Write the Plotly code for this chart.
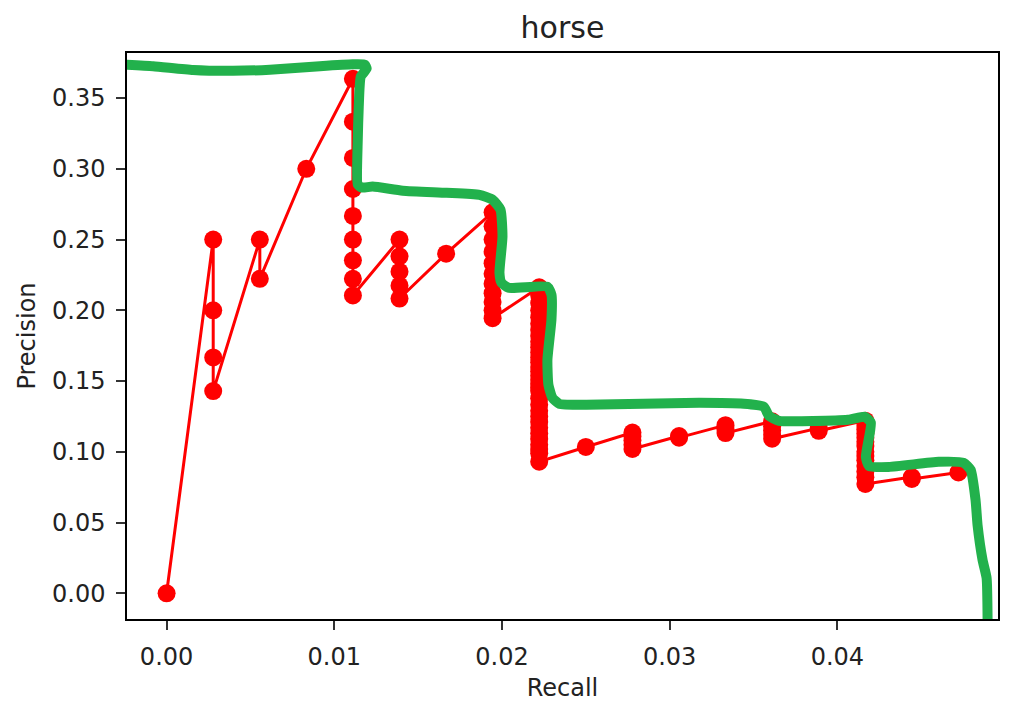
import plotly.graph_objects as go

# Precision-recall points (red)
recall = [
    0.0,
    0.00278, 0.00278, 0.00278, 0.00278,
    0.00556, 0.00556,
    0.00833,
    0.01111, 0.01111, 0.01111, 0.01111, 0.01111, 0.01111, 0.01111, 0.01111, 0.01111,
    0.01389, 0.01389, 0.01389, 0.01389, 0.01389,
    0.01667,
    0.01944, 0.01944, 0.01944, 0.01944, 0.01944, 0.01944, 0.01944, 0.01944, 0.01944, 0.01944, 0.01944,
    0.02222, 0.02222, 0.02222, 0.02222, 0.02222, 0.02222, 0.02222, 0.02222, 0.02222, 0.02222,
    0.02222, 0.02222, 0.02222, 0.02222, 0.02222, 0.02222, 0.02222, 0.02222, 0.02222, 0.02222,
    0.02222, 0.02222, 0.02222, 0.02222, 0.02222, 0.02222, 0.02222, 0.02222, 0.02222, 0.02222,
    0.02222, 0.02222,
    0.025,
    0.02778, 0.02778, 0.02778, 0.02778, 0.02778,
    0.03056, 0.03056,
    0.03333, 0.03333, 0.03333,
    0.03611, 0.03611, 0.03611, 0.03611, 0.03611,
    0.03889, 0.03889,
    0.04167, 0.04167, 0.04167, 0.04167, 0.04167, 0.04167, 0.04167, 0.04167, 0.04167, 0.04167,
    0.04167, 0.04167, 0.04167, 0.04167,
    0.04444, 0.04444,
    0.04722,
]
precision = [
    0.0,
    0.25, 0.2, 0.1667, 0.1429,
    0.25, 0.2222,
    0.3,
    0.3636, 0.3333, 0.3077, 0.2857, 0.2667, 0.25, 0.2353, 0.2222, 0.2105,
    0.25, 0.2381, 0.2273, 0.2174, 0.2083,
    0.24,
    0.2692, 0.2593, 0.25, 0.2414, 0.2333, 0.2258, 0.2188, 0.2121, 0.2059, 0.2, 0.1944,
    0.2162, 0.2105, 0.2051, 0.2, 0.1951, 0.1905, 0.186, 0.1818, 0.1778, 0.1739,
    0.1702, 0.1667, 0.1633, 0.16, 0.1569, 0.1538, 0.1509, 0.1481, 0.1455, 0.1429,
    0.1379, 0.1333, 0.129, 0.125, 0.121, 0.117, 0.113, 0.109, 0.105, 0.102,
    0.099, 0.093,
    0.1034,
    0.1136, 0.111, 0.108, 0.105, 0.102,
    0.1111, 0.11,
    0.1188, 0.116, 0.1132,
    0.1215, 0.118, 0.115, 0.112, 0.1092,
    0.1167, 0.1148,
    0.122, 0.119, 0.116, 0.113, 0.11, 0.107, 0.104, 0.1, 0.097, 0.094,
    0.09, 0.086, 0.082, 0.0773,
    0.0821, 0.0808,
    0.0854,
]

# Hand-drawn green envelope
green_x = [
    -0.00247, -0.0008, 0.00158, 0.00396, 0.00616, 0.00914, 0.0111, 0.01182, 0.01193,
    0.01158, 0.01146, 0.0114, 0.0114, 0.01164, 0.01229, 0.01408, 0.0167, 0.01866,
    0.01943, 0.01991, 0.02003, 0.01985, 0.01997, 0.02039, 0.02271, 0.02295, 0.02295,
    0.02271, 0.02277, 0.02301, 0.02342, 0.02503, 0.03176, 0.03443, 0.03562, 0.03592,
    0.03652, 0.04063, 0.04164, 0.042, 0.0417, 0.04188, 0.04307, 0.04604, 0.04753,
    0.04795, 0.04824, 0.04836, 0.04866, 0.0489, 0.04896,
]
green_y = [
    0.3736, 0.3725, 0.3698, 0.3692, 0.3700, 0.3725, 0.3738, 0.3736, 0.3708,
    0.3652, 0.344, 0.3206, 0.2888, 0.2867, 0.2874, 0.2845, 0.2830, 0.2815,
    0.2782, 0.2711, 0.252, 0.2265, 0.2194, 0.2159, 0.2166, 0.211, 0.1933,
    0.165, 0.1473, 0.1381, 0.1339, 0.1332, 0.1346, 0.1339, 0.1318, 0.1254,
    0.1219, 0.1226, 0.1247, 0.1205, 0.0964, 0.09, 0.0893, 0.0929, 0.0922,
    0.0872, 0.066, 0.0483, 0.0235, 0.0108, -0.0203,
]

x_ticks = [0.0, 0.01, 0.02, 0.03, 0.04]
y_ticks = [0.0, 0.05, 0.10, 0.15, 0.20, 0.25, 0.30, 0.35]

FONT = "DejaVu Sans"

fig = go.Figure()
fig.add_trace(go.Scatter(
    x=recall, y=precision, mode="lines+markers",
    line=dict(color="#ff0000", width=3),
    marker=dict(color="#ff0000", size=18, line=dict(width=0)),
    showlegend=False,
))
fig.add_trace(go.Scatter(
    x=green_x, y=green_y, mode="lines",
    line=dict(color="#22b14c", width=10, shape="spline", smoothing=0.5),
    showlegend=False,
))

axis_common = dict(
    showline=True, linecolor="black", linewidth=1.5, mirror=True,
    ticks="outside", ticklen=9, tickwidth=1.5, tickcolor="#333333",
    showgrid=False, zeroline=False, automargin=False,
    tickfont=dict(family=FONT, size=24, color="#222222"),
)

fig.update_xaxes(
    range=[-0.002361, 0.04958],
    tickvals=x_ticks, ticktext=[f"{v:.2f}" for v in x_ticks],
    title=dict(text="Recall", font=dict(family=FONT, size=24, color="#222222"), standoff=10),
    ticklabelstandoff=6,
    **axis_common,
)
fig.update_yaxes(
    range=[-0.01818, 0.38182],
    tickvals=y_ticks, ticktext=[f"{v:.2f}" for v in y_ticks],
    title=dict(text="Precision", font=dict(family=FONT, size=24, color="#222222"), standoff=10),
    ticklabelstandoff=6,
    **axis_common,
)

# The page body adds an 8px offset, so the figure is sized to fit 1015x705 after it
fig.update_layout(
    width=1007, height=697,
    margin=dict(l=119, r=17, t=45, b=86),
    paper_bgcolor="white", plot_bgcolor="white",
    title=dict(text="horse", x=0.5506, xanchor="center", y=0.9727, yanchor="middle",
               font=dict(family=FONT, size=30, color="#222222")),
)

fig.write_html("out.html")
